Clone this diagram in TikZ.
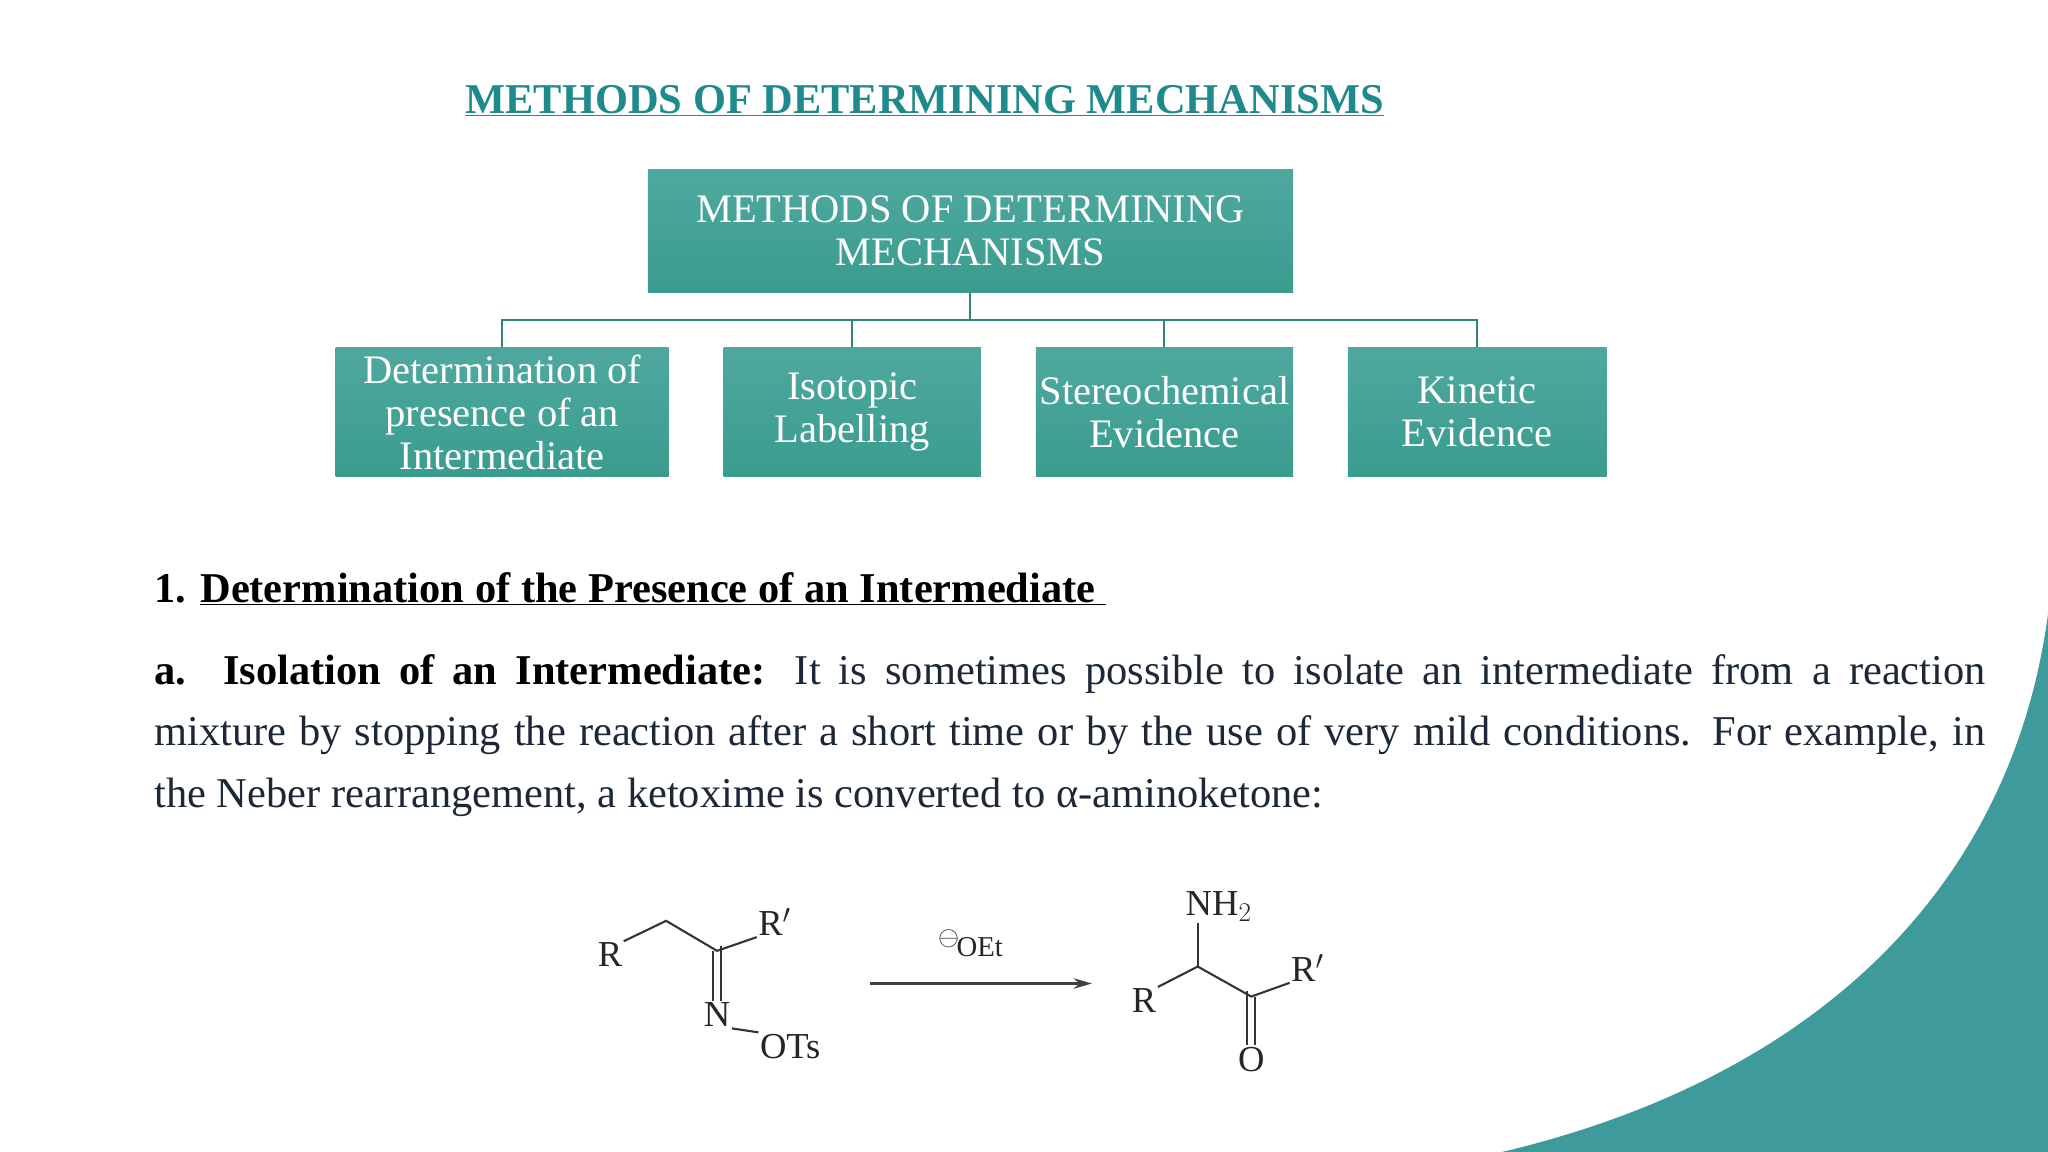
\documentclass[tikz,border=0pt]{standalone}
\usepackage{fontspec}
\setmainfont{Liberation Serif}
\usetikzlibrary{arrows.meta}
\definecolor{teal1}{HTML}{4FA89F}
\definecolor{teal2}{HTML}{3A9C8E}
\definecolor{tline}{HTML}{2E8478}
\definecolor{ttitle}{HTML}{1F8A8C}
\definecolor{deco}{HTML}{3F9A9C}
\definecolor{ink}{HTML}{1C2838}
\tikzset{
 tbox/.style={top color=teal1,bottom color=teal2,draw=none,text=white,align=center,font=\fontsize{31}{33}\selectfont,inner sep=0pt},
 conn/.style={draw=tline,line width=1.5pt},
 bond/.style={line width=1.6pt,draw=black!80},
 chem/.style={font=\fontsize{28}{28}\selectfont,inner sep=1pt,text=black!85}
}
\begin{document}
\begin{tikzpicture}[x=1pt,y=-1pt]
\useasboundingbox (0,0) rectangle (1568,882);
\fill[white] (0,0) rectangle (1568,882);
\fill[deco] (1150,882) .. controls (1390,825) and (1540,680) .. (1568,470) -- (1568,882) -- cycle;
\node[text=ttitle,font=\bfseries\fontsize{32.5}{34}\selectfont] (title) at (708,77) {\underline{METHODS OF DETERMINING MECHANISMS}};
\node[tbox,minimum width=494pt,minimum height=94pt] (top) at (743,177) {METHODS OF DETERMINING\\MECHANISMS};
\node[tbox,minimum width=255pt,minimum height=99pt] (b1) at (384.5,315.5) {Determination of\\presence of an\\Intermediate};
\node[tbox,minimum width=197pt,minimum height=99pt] (b2) at (652.5,315.5) {Isotopic\\Labelling};
\node[tbox,minimum width=197pt,minimum height=99pt] (b3) at (891.5,315.5) {Stereochemical\\Evidence};
\node[tbox,minimum width=198pt,minimum height=99pt] (b4) at (1131,315.5) {Kinetic\\Evidence};
\coordinate (j) at (743,245);
\draw[conn] (top.south) -- (j);
\foreach \b in {b1,b2,b3,b4}{\draw[conn] (j) -| (\b.north);}
\node[anchor=west,font=\bfseries\fontsize{32.5}{34}\selectfont,text=black,inner sep=0pt] (h1) at (118,451) {1. \underline{Determination of the Presence of an Intermediate\ }};
\node[anchor=north west,text width=1402pt,align=justify,inner sep=0pt,text=ink,font=\fontsize{32.5}{47}\selectfont] (para) at (118,501) {\textbf{\color{black}a. Isolation of an Intermediate:} It is sometimes possible to isolate an intermediate from a reaction\linebreak mixture by stopping the reaction after a short time or by the use of very mild conditions. For example, in\linebreak the Neber rearrangement, a ketoxime is converted to α-aminoketone:};
% reactant
\node[chem] (r1) at (467,731) {R};
\node[chem] (rp1) at (593,706) {R$'$};
\node[chem] (n1) at (549,777) {N};
\node[chem] (ots) at (605,801) {OTs};
\coordinate (c1) at (510,705);
\coordinate (c2) at (549,728);
\draw[bond] (r1.north east) -- (c1) -- (c2) -- (rp1.south west);
\draw[bond] ([xshift=-3pt]c2) -- ([xshift=-3pt]n1.north);
\draw[bond] ([xshift=3pt,yshift=4pt]c2) -- ([xshift=3pt]n1.north);
\draw[bond] (n1.south east) -- (ots.north west);
% arrow
\coordinate (a0) at (666,753);
\coordinate (a1) at (836,753);
\draw[line width=2pt,black!75,-{Stealth[length=14pt,width=8pt]}] (a0) -- (a1);
\node[chem,font=\fontsize{22}{22}\selectfont] (oet) at (743,722) {\raisebox{8pt}{\fontsize{22}{22}\selectfont$\ominus$}\kern-2pt OEt};
% product
\node[chem] (r2) at (876,766) {R};
\node[chem] (nh2) at (933,694) {NH$_2$};
\node[chem] (rp2) at (1001,741) {R$'$};
\node[chem] (o2) at (958,811) {O};
\coordinate (c3) at (917,740);
\coordinate (c4) at (958,763);
\draw[bond] (r2.north east) -- (c3) -- (c4) -- (rp2.south west);
\draw[bond] (c3) -- (nh2.south -| c3);
\draw[bond] ([xshift=-3pt,yshift=4pt]c4) -- ([xshift=-3pt]o2.north);
\draw[bond] ([xshift=3pt]c4) -- ([xshift=3pt]o2.north);
\end{tikzpicture}
\end{document}
